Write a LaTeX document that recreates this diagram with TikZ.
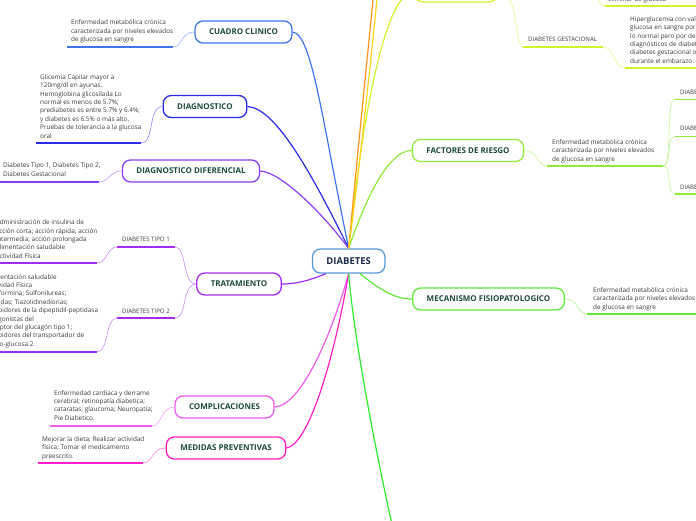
\documentclass[tikz,border=0pt]{standalone}
\usepackage{fontspec}
\setmainfont{Open Sans}
\definecolor{cuadroc}{HTML}{3D74F0}
\definecolor{diagc}{HTML}{2A2AE8}
\definecolor{difc}{HTML}{8B3DF2}
\definecolor{tratc}{HTML}{A52BEE}
\definecolor{complc}{HTML}{EE5CEE}
\definecolor{medidc}{HTML}{FF1FCC}
\definecolor{verdec}{HTML}{2EEA2E}
\definecolor{mecac}{HTML}{62E83A}
\definecolor{factc}{HTML}{8EEB3A}
\definecolor{tiposc}{HTML}{CDF52C}
\definecolor{amarc}{HTML}{FFD51C}
\definecolor{naranc}{HTML}{FF9418}
\definecolor{centroc}{HTML}{5B9BD5}
\definecolor{titulo}{HTML}{1D4A3A}
\definecolor{centrot}{HTML}{1B2B4B}
\definecolor{gris}{HTML}{3A3A3A}
\begin{document}
\begin{tikzpicture}[x=1pt, y=-1pt,
    rama/.style={draw=#1, line width=1.3pt, fill=white, rounded corners=8pt, minimum height=22pt, inner xsep=14pt, font=\fontsize{8}{9}\selectfont\bfseries, text=titulo},
    linea/.style={draw=#1, line width=1.2pt},
    sub/.style={draw=#1!55, line width=0.6pt},
    raya/.style={draw=#1, line width=1.5pt},
    desc/.style={anchor=base west, inner sep=0pt, align=left, font=\fontsize{6.4}{8.4}\selectfont, text=gris},
    etiq/.style={anchor=base west, inner sep=0pt, font=\fontsize{6.1}{7}\selectfont, text=gris}]
    \useasboundingbox (0,0) rectangle (696,520);

    \node[rama=centroc, minimum height=24pt, font=\fontsize{9.5}{11}\selectfont\bfseries, text=centrot] (diab) at (348.7,261) {DIABETES};
    \node[rama=cuadroc] (cuadro) at (243.5,32) {CUADRO CLINICO};
    \node[rama=diagc] (diag) at (205,106.5) {DIAGNOSTICO};
    \node[rama=difc] (dif) at (191,171) {DIAGNOSTICO DIFERENCIAL};
    \node[rama=tratc] (trat) at (239,284) {TRATAMIENTO};
    \node[rama=complc] (compl) at (224.5,407) {COMPLICACIONES};
    \node[rama=medidc] (medid) at (226,448) {MEDIDAS PREVENTIVAS};
    \node[rama=factc] (fact) at (468,150.5) {FACTORES DE RIESGO};
    \node[rama=mecac] (meca) at (488.5,299) {MECANISMO FISIOPATOLOGICO};
    \node[rama=tiposc, minimum width=82pt] (tipos) at (456,-9) {};
    \coordinate (abajo) at (400,560);
    \coordinate (naranja) at (377,-40);
    \coordinate (amarillo) at (381,-40);

    \draw[linea=cuadroc] (diab.north) .. controls (322,120) and (312,34) .. (cuadro.east);
    \draw[linea=diagc] (diab.north) .. controls (310,170) and (275,108) .. (diag.east);
    \draw[linea=difc] (diab.north) .. controls (320,210) and (280,172) .. (dif.east);
    \draw[linea=tratc] (diab.209) .. controls (320,276) and (302,284) .. (trat.east);
    \draw[linea=complc] (diab.south) .. controls (330,340) and (300,406) .. (compl.east);
    \draw[linea=medidc] (diab.south) .. controls (330,380) and (305,446) .. (medid.east);
    \draw[linea=verdec] (diab.south) .. controls (352,320) and (370,430) .. (abajo);
    \draw[linea=mecac] (diab.-48) .. controls (380,290) and (395,299) .. (meca.west);
    \draw[linea=factc] (diab.north) .. controls (360,215) and (385,150) .. (fact.west);
    \draw[linea=tiposc] (diab.north) .. controls (362,120) and (385,-9) .. (tipos.west);
    \draw[linea=naranc] (diab.north) .. controls (355,180) and (365,80) .. (naranja);
    \draw[linea=amarc] (diab.north) .. controls (358,180) and (369,80) .. (amarillo);

    \coordinate (cuadroA) at (173,47);
    \coordinate (cuadroB) at (67,47);
    \draw[sub=cuadroc] (cuadro.west) .. controls +(-14,0) and +(10,0) .. (cuadroA);
    \draw[raya=cuadroc] (cuadroA) -- (cuadroB);
    \node[desc] (cuadroT) at (71,41.6) {Enfermedad metabólica crónica\\caracterizada por niveles elevados\\de glucosa en sangre};

    \coordinate (diagA) at (141,143);
    \coordinate (diagB) at (36,143);
    \draw[sub=diagc] (diag.west) .. controls +(-15,0) and +(14,0) .. (diagA);
    \draw[raya=diagc] (diagA) -- (diagB);
    \node[desc] (diagT) at (40,138) {Glicemia Capilar mayor a\\120mg/dl en ayunas.\\Hemoglobina glicosilada Lo\\normal es menos de 5.7\%;\\prediabetes es entre 5.7\% y 6.4\%;\\y diabetes es 6.5\% o más alto.\\Pruebas de tolerancia a la glucosa\\oral};

    \coordinate (difA) at (99,182);
    \coordinate (difB) at (-10,182);
    \draw[sub=difc] (dif.west) .. controls +(-12,0) and +(10,0) .. (difA);
    \draw[raya=difc] (difA) -- (difB);
    \node[desc] (difT) at (3,176.3) {Diabetes Tipo 1, Diabetes Tipo 2,\\Diabetes Gestacional};

    \coordinate (t1A) at (175,247);
    \coordinate (t1B) at (117,247);
    \coordinate (t2A) at (175,318);
    \coordinate (t2B) at (117,318);
    \draw[sub=tratc] (trat.west) .. controls +(-14,0) and +(12,0) .. (t1A);
    \draw[sub=tratc] (trat.west) .. controls +(-14,0) and +(12,0) .. (t2A);
    \draw[raya=tratc] (t1A) -- (t1B);
    \draw[raya=tratc] (t2A) -- (t2B);
    \node[etiq] (t1) at (122,241.3) {DIABETES TIPO 1};
    \node[etiq] (t2) at (122,313.3) {DIABETES TIPO 2};

    \coordinate (t1dA) at (97,263);
    \coordinate (t1dB) at (-10,263);
    \draw[sub=tratc] (t1B) .. controls +(-10,0) and +(10,0) .. (t1dA);
    \draw[raya=tratc] (t1dA) -- (t1dB);
    \node[desc] (t1T) at (-4.5,258.3) {Administración de insulina de\\acción corta; acción rápida; acción\\intermedia; acción prolongada\\Alimentación saludable\\Actividad Física};

    \coordinate (t2dA) at (97,352);
    \coordinate (t2dB) at (-10,352);
    \draw[sub=tratc] (t2B) .. controls +(-12,0) and +(12,0) .. (t2dA);
    \draw[raya=tratc] (t2dA) -- (t2dB);
    \node[desc] (t2T) at (-13,346.3) {Alimentación saludable\\Actividad Física\\Metformina; Sulfonilureas;\\Glinidas; Tiazolidinedionas;\\Inhibidores de la dipeptidil-peptidasa\\4; Agonistas del\\receptor del glucagón tipo 1;\\inhibidores del transportador de\\sodio-glucosa 2};

    \coordinate (complA) at (152,426);
    \coordinate (complB) at (50,426);
    \draw[sub=complc] (compl.west) .. controls +(-14,0) and +(10,0) .. (complA);
    \draw[raya=complc] (complA) -- (complB);
    \node[desc] (complT) at (54,420.3) {Enfermedad cardiaca y derrame\\cerebral; retinopatía diabetica;\\cataratas; glaucoma; Neuropatía;\\Pie Diabetico.};

    \coordinate (medidA) at (143,463);
    \coordinate (medidB) at (38,463);
    \draw[sub=medidc] (medid.west) .. controls +(-14,0) and +(10,0) .. (medidA);
    \draw[raya=medidc] (medidA) -- (medidB);
    \node[desc] (medidT) at (42,458.3) {Mejorar la dieta; Realizar actividad\\física; Tomar el medicamento\\preescrito.};

    \coordinate (factA) at (547,166);
    \coordinate (factB) at (663,166);
    \draw[sub=factc] (fact.east) .. controls +(14,0) and +(-10,0) .. (factA);
    \draw[raya=factc] (factA) -- (factB);
    \node[desc] (factT) at (552,161.3) {Enfermedad metabólica crónica\\caracterizada por niveles elevados\\de glucosa en sangre};
    \coordinate (f1) at (675,99.3);
    \coordinate (f2) at (675,136.7);
    \coordinate (f3) at (675,194);
    \foreach \f in {f1,f2,f3} {
        \draw[sub=factc] (factB) .. controls +(10,0) and +(-10,0) .. (\f);
        \draw[raya=factc] (\f) -- ++(30,0);
    }
    \node[etiq] (f1T) at (680,94) {DIABETES TIPO 1};
    \node[etiq] (f2T) at (680,130.3) {DIABETES TIPO 2};
    \node[etiq] (f3T) at (680,189) {DIABETES GESTACIONAL};

    \coordinate (mecaA) at (587,314);
    \coordinate (mecaB) at (705,314);
    \draw[sub=mecac] (meca.east) .. controls +(14,0) and +(-10,0) .. (mecaA);
    \draw[raya=mecac] (mecaA) -- (mecaB);
    \node[desc] (mecaT) at (593,309.3) {Enfermedad metabólica crónica\\caracterizada por niveles elevados\\de glucosa en sangre};

    \coordinate (gestB) at (523,47);
    \coordinate (gestA) at (603,47);
    \draw[sub=tiposc] (tipos.east) .. controls (520,-9) and (514,47) .. (gestB);
    \draw[raya=tiposc] (gestB) -- (gestA);
    \node[etiq] (gest) at (528,41.3) {DIABETES GESTACIONAL};
    \coordinate (gestdA) at (625,68);
    \coordinate (gestdB) at (705,68);
    \draw[sub=tiposc] (gestA) .. controls +(12,0) and +(-12,0) .. (gestdA);
    \draw[raya=tiposc] (gestdA) -- (gestdB);
    \node[desc] (gestT) at (630,63.3) {Hiperglucemia con valores de\\glucosa en sangre por encima de\\lo normal pero por debajo de los\\diagnósticos de diabetes. La\\diabetes gestacional ocurre\\durante el embarazo.};

    \coordinate (t2arriba) at (590,-14);
    \coordinate (gluA) at (605,6);
    \coordinate (gluB) at (705,6);
    \draw[sub=tiposc] (t2arriba) .. controls +(8,0) and +(-8,0) .. (gluA);
    \draw[raya=tiposc] (gluA) -- (gluB);
    \node[desc] (gluT) at (608,1.3) {eliminar de glucosa};
\end{tikzpicture}
\end{document}
